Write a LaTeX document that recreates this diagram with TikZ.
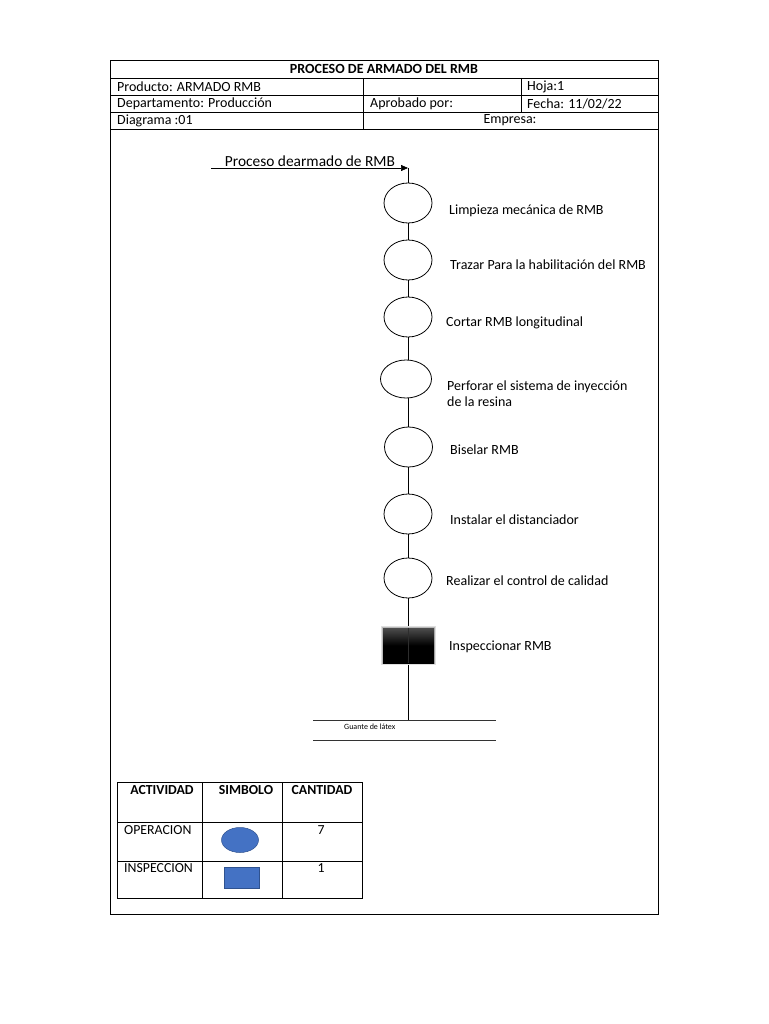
\documentclass[tikz,border=0pt]{standalone}
\usepackage{fontspec}
\setmainfont{Carlito}
\usetikzlibrary{shapes.geometric,arrows.meta}
\definecolor{opblue}{HTML}{4472C4}
\definecolor{opedge}{HTML}{2F528F}
\begin{document}
\begin{tikzpicture}[x=1pt,y=-1pt,
  frame/.style={draw=black,line width=0.9pt},
  hdr/.style={anchor=west,inner sep=0pt,font=\fontsize{14}{16}\selectfont},
  lbl/.style={anchor=west,inner sep=0pt,font=\fontsize{14}{16}\selectfont,align=left},
  oper/.style={draw=black,line width=0.8pt,ellipse,minimum width=48pt,minimum height=40pt,inner sep=0pt},
  tbl/.style={inner sep=0pt,font=\fontsize{13.8}{15}\selectfont},
  tblb/.style={inner sep=0pt,font=\fontsize{13.8}{15}\selectfont\bfseries},
  flow/.style={draw=black,line width=0.7pt}]
\useasboundingbox (0,0) rectangle (768,1024);
\fill[white] (0,0) rectangle (768,1024);
% outer frame and header
\draw[frame] (110,60) rectangle (658,914);
\draw[frame] (110,78) -- (658,78);
\draw[frame] (110,95) -- (658,95);
\draw[frame] (110,112) -- (658,112);
\draw[frame] (110,129) -- (658,129);
\draw[frame] (363,78) -- (363,129);
\draw[frame] (521,78) -- (521,112);
\node[inner sep=0pt,font=\fontsize{14}{16}\selectfont\bfseries] (title) at (384,69) {PROCESO DE ARMADO DEL RMB};
\node[hdr] (prod) at (117,87) {Producto: ARMADO RMB};
\node[hdr] (hoja) at (527,87) {Hoja:1};
\node[hdr] (dep) at (117,103.5) {Departamento: Producción};
\node[hdr] (apr) at (370,103.5) {Aprobado por:};
\node[hdr] (fecha) at (527,103.5) {Fecha: 11/02/22};
\node[hdr] (diag) at (117,120.5) {Diagrama :01};
\node[inner sep=0pt,font=\fontsize{14}{16}\selectfont] (emp) at (510,120.5) {Empresa:};
% process arrow
\coordinate (astart) at (211,168);
\coordinate (aend) at (408,168);
\draw[flow,-{Triangle[length=7pt,width=6pt]}] (astart) -- (aend);
\node[inner sep=0pt,font=\fontsize{15.4}{17}\selectfont] (atitle) at (310,161) {Proceso dearmado de RMB};
% operations
\node[oper] (e1) at (408,203) {};
\node[oper] (e2) at (408,260) {};
\node[oper] (e3) at (408,317) {};
\node[oper,minimum width=51pt,minimum height=38pt] (e4) at (406,379) {};
\node[oper] (e5) at (408.5,447) {};
\node[oper] (e6) at (408,514) {};
\node[oper] (e7) at (408,578) {};
% soft glow around the inspection box
\fill[gray!25] (381,626) rectangle (436,665);
\fill[gray!55] (382,627) rectangle (435,664);
\node[top color=gray!60!black,bottom color=black,middle color=black,draw=none,minimum width=51pt,minimum height=35pt,inner sep=0pt] (insp) at (408.5,645.5) {};
\coordinate (bot) at (408,720);
\draw[flow] (aend) -- (e1.north);
\draw[flow] (e1.south) -- (e2.north);
\draw[flow] (e2.south) -- (e3.north);
\draw[flow] (e3.south) -- (408,360);
\draw[flow] (408,398) -- (408,427);
\draw[flow] (408,467) -- (e6.north);
\draw[flow] (e6.south) -- (e7.north);
\draw[flow] (e7.south) -- (408,626);
\draw[draw=gray!35!black,line width=0.6pt] (insp.north) -- (insp.south);
\draw[flow] (408,665) -- (bot);
% labels
\node[lbl] (l1) at (449,211) {Limpieza mecánica de RMB};
\node[lbl] (l2) at (450,265) {Trazar Para la habilitación del RMB};
\node[lbl] (l3) at (446,323) {Cortar RMB longitudinal};
\node[lbl] (l4) at (447,394) {Perforar el sistema de inyección\\de la resina};
\node[lbl] (l5) at (450,450) {Biselar RMB};
\node[lbl] (l6) at (450,520) {Instalar el distanciador};
\node[lbl] (l7) at (446,581) {Realizar el control de calidad};
\node[lbl] (l8) at (449,647) {Inspeccionar RMB};
% bottom lines
\coordinate (g1a) at (313,720); \coordinate (g1b) at (496,720);
\coordinate (g2a) at (313,740); \coordinate (g2b) at (496,740);
\draw[draw=black!80,line width=0.7pt] (g1a) -- (g1b);
\draw[draw=black!80,line width=0.7pt] (g2a) -- (g2b);
\node[anchor=west,inner sep=0pt,font=\fontsize{8}{9}\selectfont] (guante) at (344,727) {Guante de látex};
% summary table
\draw[frame] (117,782) rectangle (362,898);
\draw[frame] (117,822) -- (362,822);
\draw[frame] (117,861) -- (362,861);
\draw[frame] (202,782) -- (202,898);
\draw[frame] (282,782) -- (282,898);
\node[tblb] (hact) at (162,790) {ACTIVIDAD};
\node[tblb] (hsim) at (246,790) {SIMBOLO};
\node[tblb] (hcan) at (322,790) {CANTIDAD};
\node[tbl,anchor=west] (top) at (124,830) {OPERACION};
\node[tbl] (n7) at (321,830) {7};
\node[tbl,anchor=west] (tins) at (124,868) {INSPECCION};
\node[tbl] (n1) at (321,868) {1};
\node[ellipse,fill=opblue,draw=opedge,line width=0.5pt,minimum width=37pt,minimum height=25pt,inner sep=0pt] (sop) at (240,840) {};
\node[rectangle,fill=opblue,draw=opedge,line width=0.5pt,minimum width=35pt,minimum height=21pt,inner sep=0pt] (sin) at (241.5,877.5) {};
\end{tikzpicture}
\end{document}
